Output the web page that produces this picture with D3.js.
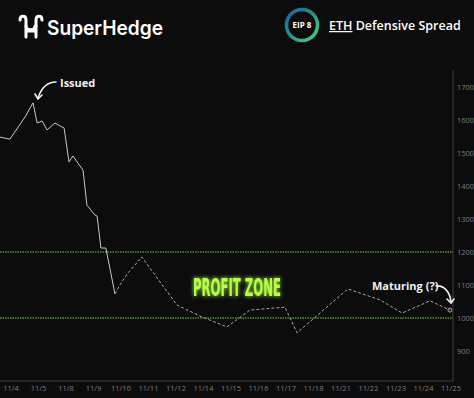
<!DOCTYPE html>
<html>
<head>
<meta charset="utf-8">
<title>ETH Defensive Spread</title>
<script src="https://cdn.jsdelivr.net/npm/d3@7"></script>
<style>
  html, body { margin: 0; padding: 0; background: #0c0c0c; }
  svg { display: block; }
</style>
</head>
<body>
<div id="chart"></div>
<script>
// x tick labels (one per index position)
var dateLabels = ["11/4", "11/5", "11/8", "11/9", "11/10", "11/11", "11/12", "11/14", "11/15",
                  "11/16", "11/17", "11/18", "11/21", "11/22", "11/23", "11/24", "11/25"];
var priceTicks = [900, 1000, 1100, 1200, 1300, 1400, 1500, 1600, 1700];

// price history (index position on the date axis, ETH price)
var histIdx   = [-0.4, -0.04, 0.51, 0.8, 0.95, 1.13, 1.31, 1.6, 1.85, 1.93, 2.11, 2.25, 2.62, 2.76, 3.05, 3.13, 3.27, 3.45, 3.78];
var histPrice = [1548, 1542, 1609, 1652, 1591, 1597, 1570, 1591, 1579, 1576, 1473, 1491, 1448, 1342, 1312, 1309, 1212, 1212, 1073];

// projected path (dashed)
var projIdx   = [3.78, 3.96, 4.22, 4.76, 5.42, 6.04, 6.87, 7.85, 8.69, 9.96, 10.4, 12.25, 13.42, 14.22, 15.24, 15.96];
var projPrice = [1073, 1100, 1133, 1185, 1109, 1039, 1006, 973, 1024, 1033, 955, 1088, 1055, 1015, 1052, 1024];

// profit zone bounds
var zoneLevels = [1000, 1200];

var W = 474, H = 398;
var svg = d3.select("#chart").append("svg").attr("width", W).attr("height", H);
svg.append("rect").attr("width", W).attr("height", H).attr("fill", "#0c0c0c");

var x = d3.scaleLinear().domain([0, dateLabels.length - 1]).range([11, 451]);
var y = d3.scaleLinear().domain([900, 1700]).range([351, 87]);
var axisX = 453, axisBottom = 381;

var defs = svg.append("defs");
var glow = defs.append("filter").attr("id", "glow").attr("x", "-20%").attr("y", "-50%").attr("width", "140%").attr("height", "200%");
glow.append("feGaussianBlur").attr("stdDeviation", 2.2).attr("result", "b");
var fm = glow.append("feMerge");
fm.append("feMergeNode").attr("in", "b");
fm.append("feMergeNode").attr("in", "SourceGraphic");

var ring = defs.append("linearGradient").attr("id", "ring").attr("x1", "0").attr("y1", "0").attr("x2", "1").attr("y2", "1");
ring.append("stop").attr("offset", "0%").attr("stop-color", "#1d5fa0");
ring.append("stop").attr("offset", "55%").attr("stop-color", "#2a9a8a");
ring.append("stop").attr("offset", "100%").attr("stop-color", "#4fd07a");

// axes frame
svg.append("line").attr("x1", axisX).attr("x2", axisX).attr("y1", 70).attr("y2", axisBottom)
  .attr("stroke", "#3e3e3e").attr("stroke-width", 1);
svg.append("line").attr("x1", 0).attr("x2", axisX).attr("y1", axisBottom).attr("y2", axisBottom)
  .attr("stroke", "#3e3e3e").attr("stroke-width", 1);

svg.selectAll(".ytick").data(priceTicks).enter().append("text")
  .attr("x", axisX + 4).attr("y", function(d) { return y(d) + 3; })
  .attr("fill", "#7d7d7d").attr("font-family", "Open Sans").attr("font-size", 7.5)
  .text(function(d) { return d; });

svg.selectAll(".xtick").data(dateLabels).enter().append("text")
  .attr("x", function(d, i) { return x(i); }).attr("y", 391)
  .attr("text-anchor", "middle")
  .attr("fill", "#7d7d7d").attr("font-family", "Open Sans").attr("font-size", 7.5)
  .text(function(d) { return d; });

// profit zone lines
svg.selectAll(".zone").data(zoneLevels).enter().append("line")
  .attr("x1", 0).attr("x2", axisX)
  .attr("y1", function(d) { return y(d); }).attr("y2", function(d) { return y(d); })
  .attr("stroke", "#7fc95a").attr("stroke-width", 1).attr("stroke-dasharray", "1.5,1");

svg.append("text").attr("x", 237).attr("y", 296).attr("text-anchor", "middle")
  .attr("font-family", "DejaVu Sans Condensed").attr("font-weight", "bold").attr("font-size", 25)
  .attr("textLength", 88).attr("lengthAdjust", "spacingAndGlyphs")
  .attr("fill", "#b6ff4a").attr("filter", "url(#glow)")
  .text("PROFIT ZONE");

// price lines
var hist = histIdx.map(function(d, i) { return [d, histPrice[i]]; });
var proj = projIdx.map(function(d, i) { return [d, projPrice[i]]; });
var line = d3.line().x(function(d) { return x(d[0]); }).y(function(d) { return y(d[1]); });

svg.append("path").datum(hist).attr("d", line)
  .attr("fill", "none").attr("stroke", "#c8c8c8").attr("stroke-width", 1);
svg.append("path").datum(proj).attr("d", line)
  .attr("fill", "none").attr("stroke", "#a8a8a8").attr("stroke-width", 1).attr("stroke-dasharray", "3,2");

var last = proj[proj.length - 1];
svg.append("circle").attr("cx", x(last[0])).attr("cy", y(last[1])).attr("r", 2)
  .attr("fill", "none").attr("stroke", "#a8a8a8").attr("stroke-width", 1);

// annotations
var ann = svg.append("g").attr("font-family", "Open Sans").attr("font-weight", "bold")
  .attr("font-size", 11).attr("fill", "#f2f2f2");
ann.append("text").attr("x", 60).attr("y", 87).text("Issued");
ann.append("text").attr("x", 372).attr("y", 290).text("Maturing (?)");

var arrows = svg.append("g").attr("fill", "none").attr("stroke", "#f2f2f2").attr("stroke-width", 1.6).attr("stroke-linecap", "round");
arrows.append("path").attr("d", "M56,82 C47,82 41,89 38,98");
arrows.append("path").attr("d", "M35,94 L38,99 L42,95");
arrows.append("path").attr("d", "M436,286 C444,285 450,292 451,302");
arrows.append("path").attr("d", "M447,299 L451,303 L454,299");

// header: logo
var logo = svg.append("g").attr("fill", "none").attr("stroke", "#ffffff").attr("stroke-width", 3).attr("stroke-linecap", "round");
logo.append("path").attr("d", "M20,20 C20,15 26,15 26,20 L26,26 C26,31 35,31 35,26");
logo.append("path").attr("d", "M42,20 C42,15 36,15 36,20 L36,26");
logo.append("path").attr("d", "M26,26 L26,37 M36,26 L36,37 M26,31 L36,31");
svg.append("text").attr("x", 47).attr("y", 35)
  .attr("font-family", "Inter").attr("font-weight", 600).attr("font-size", 20)
  .attr("textLength", 116).attr("lengthAdjust", "spacingAndGlyphs")
  .attr("fill", "#ffffff").text("SuperHedge");

// header: badge + title
svg.append("circle").attr("cx", 302).attr("cy", 25).attr("r", 15.5)
  .attr("fill", "#0c0c0c").attr("stroke", "url(#ring)").attr("stroke-width", 3.5);
svg.append("text").attr("x", 302).attr("y", 28).attr("text-anchor", "middle")
  .attr("font-family", "Open Sans").attr("font-weight", "bold").attr("font-size", 8)
  .attr("fill", "#ffffff").text("EIP 8");
var title = svg.append("text").attr("x", 329).attr("y", 30)
  .attr("font-family", "Open Sans").attr("font-weight", 600).attr("font-size", 12.5).attr("fill", "#ffffff");
title.append("tspan").attr("text-decoration", "underline").text("ETH");
title.append("tspan").text(" Defensive Spread");
</script>
</body>
</html>
